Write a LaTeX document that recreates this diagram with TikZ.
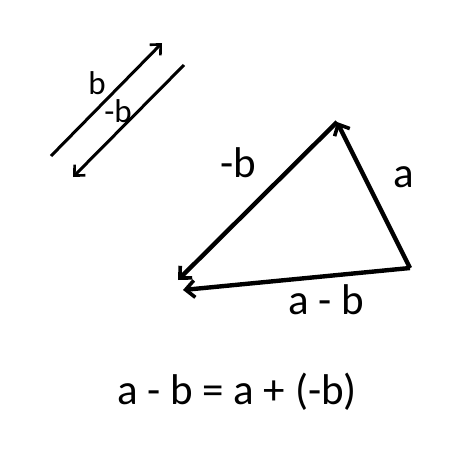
\documentclass[tikz,border=0pt]{standalone}
\usepackage{fontspec}
\setmainfont{Carlito}
\usetikzlibrary{arrows.meta}
\begin{document}
\begin{tikzpicture}[x=1pt,y=-1pt,
  thinvec/.style={line width=3pt,-{Straight Barb[length=8pt,width=15pt,line width=2.6pt]}},
  thickvec/.style={line width=4.4pt,-{Straight Barb[length=9pt,width=17pt,line width=3.6pt]}},
  small/.style={font=\fontsize{33}{36}\selectfont},
  big/.style={font=\fontsize{43}{46}\selectfont}]
\useasboundingbox[fill=white] (0,0) rectangle (474,474);
% parallel pair
\coordinate (b1) at (51,156);
\coordinate (b2) at (162,43);
\coordinate (n1) at (184,65);
\coordinate (n2) at (73,177);
\draw[thinvec] (b1) -- (b2);
\draw[thinvec] (n1) -- (n2);
\node[small] (lb) at (97,83) {b};
\node[small] (lnb) at (118,111) {-b};
% triangle
\coordinate (T) at (337,122);
\coordinate (R) at (410,268);
\coordinate (L) at (178,280);
\coordinate (L2) at (183,290);
\draw[thickvec] (R) -- (T);
\draw[thickvec] (T) -- (L);
\draw[thickvec] (R) -- (L2);
\node[big] (la) at (404,177) {a};
\node[big] (lmb) at (238,163) {-b};
\node[big] (lab) at (326,300) {a - b};
% equation
\node[big] (eq) at (237,392) {a - b = a + (-b)};
\end{tikzpicture}
\end{document}
